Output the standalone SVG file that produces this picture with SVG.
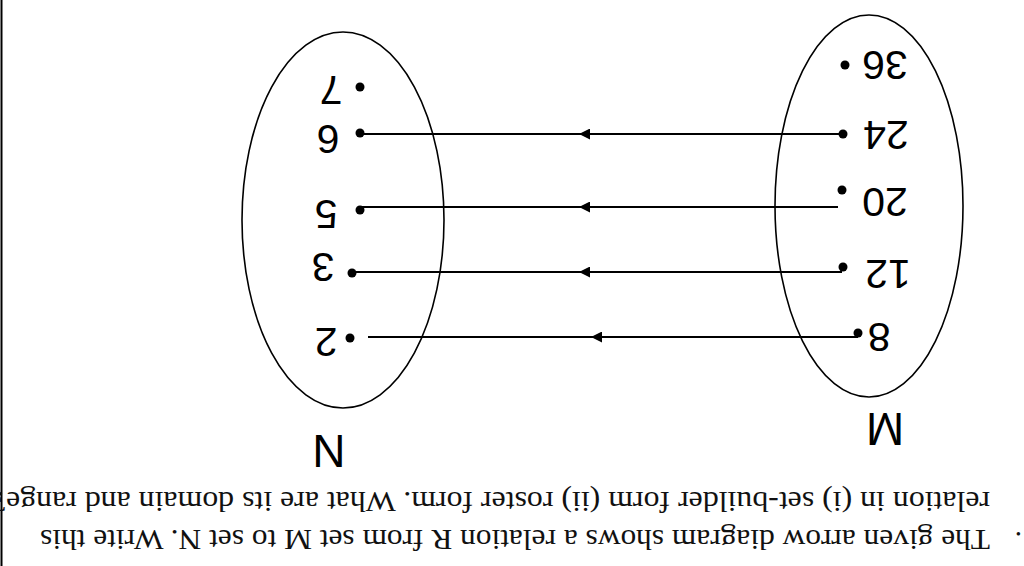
<svg xmlns="http://www.w3.org/2000/svg" width="1024" height="566" viewBox="0 0 1024 566">
<style>
.set{fill:none;stroke:#000;stroke-width:1.6}
.dot{fill:#000}
.num{font-family:"Liberation Sans",Arial,sans-serif;font-size:41px;fill:#000;text-anchor:middle;dominant-baseline:central}
.lbl{font-family:"Liberation Sans",Arial,sans-serif;font-size:46px;fill:#000;text-anchor:middle;dominant-baseline:central}
.edge{fill:none;stroke:#000;stroke-width:2;marker-mid:url(#arr)}
.q{font-family:"Liberation Serif","Times New Roman",serif;font-size:29px;fill:#111}
</style>
<defs>
<marker id="arr" viewBox="0 0 10 10" refX="0" refY="5" markerWidth="11" markerHeight="11" markerUnits="userSpaceOnUse" orient="auto">
<path d="M0,0 L10,5 L0,10 Z" fill="#000"/>
</marker>
</defs>
<rect width="1024" height="566" fill="#fff"/>
<line x1="1.5" y1="0" x2="1.5" y2="566" stroke="#000" stroke-width="2"/>

<g id="set-N">
<ellipse class="set" cx="343" cy="220" rx="101" ry="188"/>
<text class="lbl" transform="translate(329 451) rotate(180)">N</text>
</g>
<g id="set-M">
<ellipse class="set" cx="869" cy="206" rx="94" ry="191"/>
<text class="lbl" transform="translate(885 429) rotate(180)">M</text>
</g>

<g id="n7"><circle class="dot" cx="360" cy="87" r="4.5"/><text class="num" transform="translate(331 90) rotate(180)">7</text></g>
<g id="n6"><circle class="dot" cx="360" cy="133" r="4.5"/><text class="num" transform="translate(328 139) rotate(180)">6</text></g>
<g id="n5"><circle class="dot" cx="360" cy="210" r="4.5"/><text class="num" transform="translate(326 214) rotate(180)">5</text></g>
<g id="n3"><circle class="dot" cx="352" cy="273" r="4.5"/><text class="num" transform="translate(323 267) rotate(180)">3</text></g>
<g id="n2"><circle class="dot" cx="350" cy="338" r="4.5"/><text class="num" transform="translate(326 342) rotate(180)">2</text></g>

<g id="m36"><circle class="dot" cx="845" cy="65" r="4.5"/><text class="num" transform="translate(885 65) rotate(180)">36</text></g>
<g id="m24"><circle class="dot" cx="843" cy="134" r="4.5"/><text class="num" transform="translate(886 135) rotate(180)">24</text></g>
<g id="m20"><circle class="dot" cx="842" cy="190" r="4.5"/><text class="num" transform="translate(885 202) rotate(180)">20</text></g>
<g id="m12"><circle class="dot" cx="843" cy="267" r="4.5"/><text class="num" transform="translate(888 274) rotate(180)">12</text></g>
<g id="m8"><circle class="dot" cx="858" cy="333" r="4.5"/><text class="num" transform="translate(879 337) rotate(180)">8</text></g>

<g id="connectors">
<path class="edge" d="M843,134 L590,134 L360,134"/>
<path class="edge" d="M838,207 L590,207 L360,207"/>
<path class="edge" d="M842,272 L590,272 L352,272"/>
<path class="edge" d="M858,337 L602,337 L368,337"/>
</g>

<g id="question" transform="rotate(180 512 283)">
<text class="q" x="2" y="34">.</text>
<text class="q" x="34" y="36" textLength="950" lengthAdjust="spacingAndGlyphs">The given arrow diagram shows a relation R from set M to set N. Write this</text>
<text class="q" x="34" y="74" textLength="998" lengthAdjust="spacingAndGlyphs">relation in (i) set-builder form (ii) roster form. What are its domain and range?</text>
</g>
</svg>
